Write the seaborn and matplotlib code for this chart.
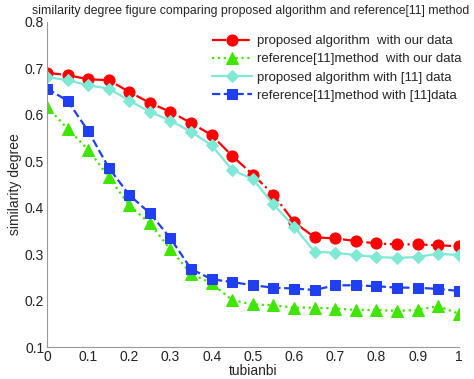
import numpy as np
import pandas as pd
import matplotlib
matplotlib.use('Agg')
import matplotlib.pyplot as plt
import seaborn as sns

sns.set_style('white')
plt.rcParams['font.family'] = ['Liberation Sans', 'DejaVu Sans']

# x values (tubianbi)
tubianbi = [0.0, 0.05, 0.1, 0.15, 0.2, 0.25, 0.3, 0.35, 0.4, 0.45, 0.5,
            0.55, 0.6, 0.65, 0.7, 0.75, 0.8, 0.85, 0.9, 0.95, 1.0]

proposed_our = [0.690, 0.685, 0.676, 0.674, 0.649, 0.625, 0.606, 0.582, 0.556, 0.511, 0.471,
                0.428, 0.369, 0.336, 0.334, 0.328, 0.323, 0.321, 0.321, 0.319, 0.317]
reference_our = [0.617, 0.570, 0.525, 0.466, 0.405, 0.366, 0.310, 0.258, 0.237, 0.201, 0.192,
                 0.190, 0.185, 0.185, 0.183, 0.180, 0.180, 0.178, 0.180, 0.188, 0.172]
proposed_11 = [0.681, 0.674, 0.663, 0.656, 0.630, 0.606, 0.587, 0.563, 0.534, 0.481, 0.461,
               0.407, 0.359, 0.305, 0.303, 0.298, 0.294, 0.292, 0.294, 0.301, 0.298]
reference_11 = [0.656, 0.630, 0.565, 0.486, 0.427, 0.388, 0.334, 0.268, 0.246, 0.240, 0.233,
                0.228, 0.226, 0.223, 0.233, 0.233, 0.231, 0.228, 0.228, 0.225, 0.221]

labels = ['proposed algorithm  with our data',
          'reference[11]method  with our data',
          'proposed algorithm with [11] data',
          'reference[11]method with [11]data']
series = [proposed_our, reference_our, proposed_11, reference_11]
colors = ['#ff0000', '#3fe600', '#7fe9d6', '#1f3ff0']
markers = ['o', '^', 'D', 's']
styles = ['-.', ':', '-', '--']
msizes = [8, 8, 6, 7]

fig = plt.figure(figsize=(4.74, 3.79), dpi=100)
ax = fig.add_axes([0.099, 0.084, 0.869, 0.859])

for vals, lab, c, m, ls, ms in zip(series, labels, colors, markers, styles, msizes):
    df = pd.DataFrame({'tubianbi': tubianbi, 'similarity': vals})
    sns.lineplot(data=df, x='tubianbi', y='similarity', ax=ax, color=c, marker=m,
                 linestyle=ls, linewidth=1.6, markersize=ms, markeredgecolor=c,
                 label=lab)

ax.set_xlim(0, 1)
ax.set_ylim(0.1, 0.8)
ax.set_xticks(np.arange(0, 1.01, 0.1))
ax.set_xticklabels(['0', '0.1', '0.2', '0.3', '0.4', '0.5', '0.6', '0.7', '0.8', '0.9', '1'])
ax.set_yticks(np.arange(0.1, 0.81, 0.1))
ax.set_yticklabels(['0.1', '0.2', '0.3', '0.4', '0.5', '0.6', '0.7', '0.8'])
ax.tick_params(direction='in', length=3, labelsize=10, colors='#222222', pad=2)
for s in ['top', 'right']:
    ax.spines[s].set_visible(False)
for s in ['left', 'bottom']:
    ax.spines[s].set_color('#999999')
    ax.spines[s].set_linewidth(0.8)

ax.set_xlabel('tubianbi', fontsize=10, labelpad=0)
ax.set_ylabel('similarity degree', fontsize=10, labelpad=2)
fig.text(0.528, 0.97, 'similarity degree figure comparing proposed algorithm and reference[11] method',
         fontsize=8.8, ha='center', va='center')
ax.legend(loc='upper left', frameon=False, fontsize=9.5, handlelength=3.0,
          handletextpad=0.4, borderaxespad=0.0, labelspacing=0.45,
          bbox_to_anchor=(0.389, 0.975))

plt.savefig('out.png', dpi=100)
